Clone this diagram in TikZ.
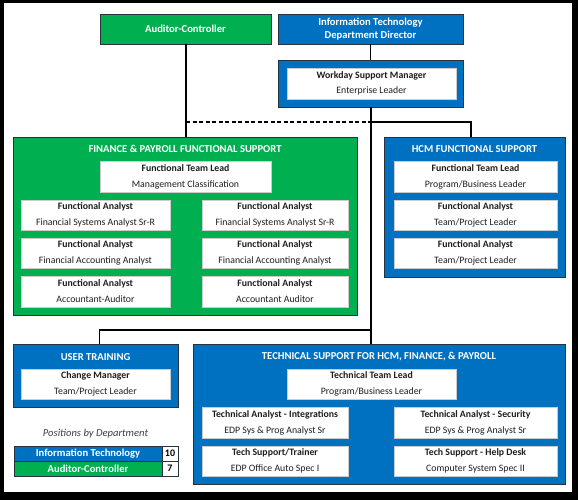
\documentclass[tikz,border=0pt]{standalone}
\usepackage{fontspec}
\setmainfont{Carlito}
\definecolor{acgreen}{RGB}{0,176,80}
\definecolor{itblue}{RGB}{0,112,192}
\definecolor{boxline}{RGB}{40,50,60}
\definecolor{txt}{RGB}{30,30,30}
\newcommand{\tl}[2]{{\bfseries #1}\\{#2}}
\begin{document}
\begin{tikzpicture}[x=1pt,y=-1pt,
  colbox/.style={draw=boxline,line width=0.9pt,inner sep=0pt},
  greenbox/.style={colbox,fill=acgreen},
  bluebox/.style={colbox,fill=itblue},
  whitebox/.style={fill=white,draw=black!20,line width=0.4pt,inner sep=0pt,align=center,text=txt,
     font=\fontsize{9.8}{16}\selectfont},
  headtxt/.style={text=white,font=\fontsize{10.6}{13.5}\selectfont\bfseries,align=center,inner sep=0pt},
  conn/.style={draw=black,line width=1.4pt},
  dconn/.style={draw=black,line width=1.2pt,dash pattern=on 4pt off 2.5pt}]
% frame
\fill[black] (0,0) rectangle (578,500);
\fill[white] (4,3) rectangle (572,492);
\useasboundingbox (0,0) rectangle (578,500);

% top boxes
\node[greenbox,minimum width=171pt,minimum height=30pt] (ac) at (185.5,29) {};
\node[headtxt] (actx) at (ac.center) {Auditor-Controller};
\node[bluebox,minimum width=185pt,minimum height=30pt] (it) at (370.5,29) {};
\node[headtxt] (ittx) at (it.center) {Information Technology\\Department Director};
\node[bluebox,minimum width=185pt,minimum height=47pt] (wd) at (370.5,83.5) {};
\node[whitebox,minimum width=169pt,minimum height=31pt,font=\fontsize{9.8}{15}\selectfont] (wdi) at (371.5,83.5) {\tl{Workday Support Manager}{Enterprise Leader}};

% finance
\node[greenbox,minimum width=344pt,minimum height=178pt] (fin) at (185,226) {};
\node[headtxt] (fint) at (185,149) {FINANCE \& PAYROLL FUNCTIONAL SUPPORT};
\node[whitebox,minimum width=171pt,minimum height=31pt] (fl) at (185.5,176.5) {\tl{Functional Team Lead}{Management Classification}};
\node[whitebox,minimum width=149pt,minimum height=30pt] (f1) at (95.5,215) {\tl{Functional Analyst}{Financial Systems Analyst Sr-R}};
\node[whitebox,minimum width=146pt,minimum height=30pt] (f2) at (275,215) {\tl{Functional Analyst}{Financial Systems Analyst Sr-R}};
\node[whitebox,minimum width=149pt,minimum height=30pt] (f3) at (95.5,253) {\tl{Functional Analyst}{Financial Accounting Analyst}};
\node[whitebox,minimum width=146pt,minimum height=30pt] (f4) at (275,253) {\tl{Functional Analyst}{Financial Accounting Analyst}};
\node[whitebox,minimum width=149pt,minimum height=31pt] (f5) at (95.5,291.5) {\tl{Functional Analyst}{Accountant-Auditor}};
\node[whitebox,minimum width=146pt,minimum height=31pt] (f6) at (275,291.5) {\tl{Functional Analyst}{Accountant Auditor}};

% HCM
\node[bluebox,minimum width=181pt,minimum height=140pt] (hcm) at (474.5,207) {};
\node[headtxt] (hcmt) at (474.5,149) {HCM FUNCTIONAL SUPPORT};
\node[whitebox,minimum width=163pt,minimum height=31pt] (h1) at (475.5,176.5) {\tl{Functional Team Lead}{Program/Business Leader}};
\node[whitebox,minimum width=163pt,minimum height=30pt] (h2) at (475.5,215) {\tl{Functional Analyst}{Team/Project Leader}};
\node[whitebox,minimum width=163pt,minimum height=30pt] (h3) at (475.5,253) {\tl{Functional Analyst}{Team/Project Leader}};

% user training
\node[bluebox,minimum width=165pt,minimum height=63pt] (ut) at (95.5,375.5) {};
\node[headtxt] (utt) at (95.5,357) {USER TRAINING};
\node[whitebox,minimum width=149pt,minimum height=30pt] (cm) at (95.5,384) {\tl{Change Manager}{Team/Project Leader}};

% tech support
\node[bluebox,minimum width=372pt,minimum height=140pt] (ts) at (379,414) {};
\node[headtxt] (tst) at (379,357) {TECHNICAL SUPPORT FOR HCM, FINANCE, \& PAYROLL};
\node[whitebox,minimum width=169pt,minimum height=30pt] (tl) at (371.5,384) {\tl{Technical Team Lead}{Program/Business Leader}};
\node[whitebox,minimum width=146pt,minimum height=31pt] (t1) at (275,422.5) {\tl{Technical Analyst - Integrations}{EDP Sys \& Prog Analyst Sr}};
\node[whitebox,minimum width=163pt,minimum height=31pt] (t2) at (475.5,422.5) {\tl{Technical Analyst - Security}{EDP Sys \& Prog Analyst Sr}};
\node[whitebox,minimum width=146pt,minimum height=30pt] (t3) at (275,461) {\tl{Tech Support/Trainer}{EDP Office Auto Spec I}};
\node[whitebox,minimum width=163pt,minimum height=30pt] (t4) at (475.5,461) {\tl{Tech Support - Help Desk}{Computer System Spec II}};

% legend
\node[text=black!75,font=\fontsize{10.6}{12}\selectfont\itshape,inner sep=0pt] (pos) at (95.5,434) {Positions by Department};
\node[fill=itblue,draw=boxline,line width=0.6pt,minimum width=148pt,minimum height=15pt,inner sep=0pt,
  text=white,font=\fontsize{10.6}{12}\selectfont\bfseries] (lit) at (88,453.5) {Information Technology};
\node[fill=white,draw=boxline,line width=0.6pt,minimum width=16pt,minimum height=15pt,inner sep=0pt,
  font=\fontsize{10}{12}\selectfont\bfseries] (nit) at (170,453.5) {10};
\node[fill=acgreen,draw=boxline,line width=0.6pt,minimum width=148pt,minimum height=15pt,inner sep=0pt,
  text=white,font=\fontsize{10.6}{12}\selectfont\bfseries] (lac) at (88,468.5) {Auditor-Controller};
\node[fill=white,draw=boxline,line width=0.6pt,minimum width=16pt,minimum height=15pt,inner sep=0pt,
  font=\fontsize{10}{12}\selectfont\bfseries] (nac) at (170,468.5) {7};

% connectors
\coordinate (j1) at (371,122);
\coordinate (j2) at (186,122);
\coordinate (j3) at (471,122);
\coordinate (j4) at (371,330);
\coordinate (j5) at (99.5,330);
\draw[conn] (ac.south -| j2) -- (fin.north -| j2);
\draw[conn] (it.south) -- (wd.north);
\draw[conn] (wd.south -| j1) -- (j1) -- (j3) -- (hcm.north -| j3);
\draw[dconn] (j2) -- (j1);
\draw[conn] (j1) -- (j4) -- (ts.north -| j4);
\draw[conn] (j4) -- (j5) -- (ut.north -| j5);
\end{tikzpicture}
\end{document}
